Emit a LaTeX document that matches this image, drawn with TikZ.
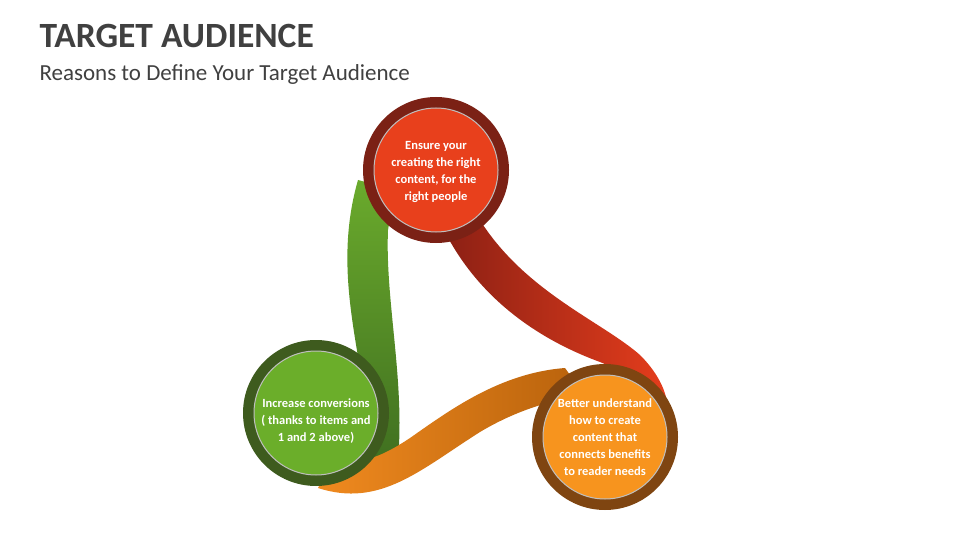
\documentclass[tikz,border=0pt]{standalone}
\usepackage{fontspec}
\setmainfont{Carlito}
\definecolor{rfill}{HTML}{E8401C}\definecolor{rring}{HTML}{7B2115}
\definecolor{gfill}{HTML}{6BAE2A}\definecolor{gring}{HTML}{3E5B1E}
\definecolor{ofill}{HTML}{F7941E}\definecolor{oring}{HTML}{7F4511}
\definecolor{gr1}{HTML}{6AAA2C}\definecolor{gr2}{HTML}{3F6E20}
\definecolor{rr1}{HTML}{8C2014}\definecolor{rr2}{HTML}{E53D1C}
\definecolor{or1}{HTML}{F08A1F}\definecolor{or2}{HTML}{B8620C}
\begin{document}
\begin{tikzpicture}[x=1pt,y=-1pt,
  ring/.style={circle,minimum size=146pt,inner sep=0pt},
  inner/.style={circle,minimum size=124pt,inner sep=0pt,draw=white!75!black,line width=1pt},
  lbl/.style={align=center,text=white,font=\fontsize{12.5}{17}\selectfont\bfseries}]
\useasboundingbox (0,0) rectangle (960,540);
\node[anchor=west,text=black!75,font=\fontsize{35.5}{38}\selectfont\bfseries] (t) at (36,36) {TARGET AUDIENCE};
\node[anchor=west,text=black!75,font=\fontsize{23}{26}\selectfont] (s) at (36,74) {Reasons to Define Your Target Audience};
% ribbons
\shade[top color=gr1, bottom color=gr2] (358,180) .. controls (335,260) and (355,330) .. (365,400) -- (372,470) -- (398,460) .. controls (405,380) and (385,300) .. (388,230) -- (395,190) -- cycle;
\shade[left color=rr1, right color=rr2] (475,212) .. controls (520,290) and (600,320) .. (640,355) .. controls (660,375) and (668,395) .. (668,412) -- (645,405) .. controls (630,375) and (615,368) .. (600,362) .. controls (540,340) and (480,300) .. (445,232) -- cycle;
\shade[left color=or1, right color=or2] (318,488) .. controls (380,508) and (420,470) .. (480,432) .. controls (520,408) and (560,398) .. (585,396) -- (565,368) .. controls (500,373) and (450,410) .. (410,438) .. controls (380,458) and (360,465) .. (335,458) -- cycle;
% circles
\node[ring,fill=rring] (a) at (436,170) {};
\node[inner,fill=rfill] (a1) at (a) {};
\node[lbl] (a2) at (436,172) {Ensure your\\creating the right\\content, for the\\right people};
\node[ring,fill=gring] (b) at (316,413) {};
\node[inner,fill=gfill] (b1) at (b) {};
\node[lbl] (b2) at (316,421) {Increase conversions\\( thanks to items and\\1 and 2 above)};
\node[ring,fill=oring] (c) at (605,437) {};
\node[inner,fill=ofill] (c1) at (c) {};
\node[lbl] (c2) at (605,437) {Better understand\\how to create\\content that\\connects benefits\\to reader needs};
\end{tikzpicture}
\end{document}
